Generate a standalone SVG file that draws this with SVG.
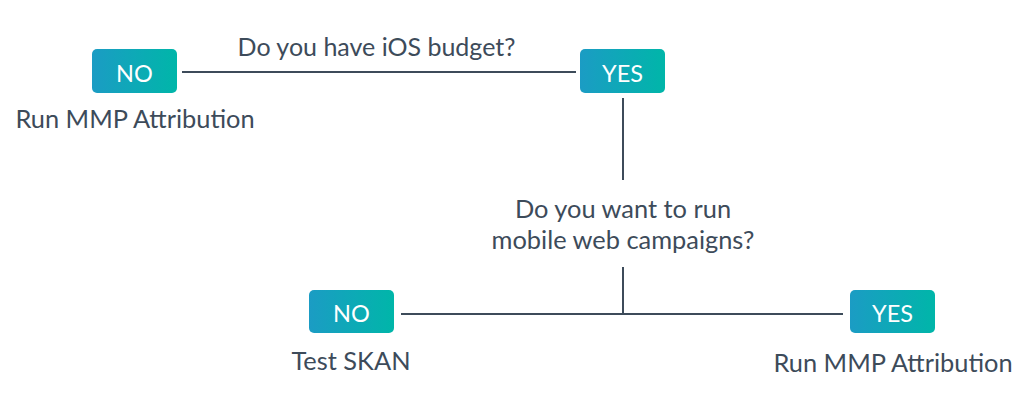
<svg xmlns="http://www.w3.org/2000/svg" width="1024" height="415" viewBox="0 0 1024 415">
<defs>
<linearGradient id="g" x1="0" y1="0" x2="1" y2="0">
<stop offset="0" stop-color="#1b9cc4"/>
<stop offset="1" stop-color="#00b6a9"/>
</linearGradient>
<style>
.box{fill:url(#g);}
.bt{font-family:Lato,"Liberation Sans",sans-serif;font-size:23.5px;fill:#ffffff;text-anchor:middle;}
.t{font-family:Lato,"Liberation Sans",sans-serif;font-size:25.4px;fill:#3d4b5a;text-anchor:middle;}
.ln{stroke:#3d4b5a;stroke-width:2;fill:none;}
</style>
</defs>
<rect width="1024" height="415" fill="#ffffff"/>
<g id="connectors">
<line class="ln" x1="182" y1="72" x2="576" y2="72"/>
<line class="ln" x1="623" y1="98" x2="623" y2="180"/>
<line class="ln" x1="623" y1="267" x2="623" y2="314"/>
<line class="ln" x1="401" y1="314" x2="843" y2="314"/>
</g>
<g id="q1"><text class="t" x="376.5" y="56" style="font-size:25px">Do you have iOS budget?</text></g>
<g id="q2"><text class="t" x="623" y="218">Do you want to run</text><text class="t" x="623" y="249">mobile web campaigns?</text></g>
<g id="no1"><rect class="box" x="92" y="49" width="85" height="44" rx="5"/><text class="bt" x="134.5" y="82">NO</text></g>
<g id="res1"><text class="t" x="135" y="128">Run MMP Attribution</text></g>
<g id="yes1"><rect class="box" x="580" y="49" width="85" height="44" rx="5"/><text class="bt" x="622.5" y="82">YES</text></g>
<g id="no2"><rect class="box" x="309" y="290" width="85" height="43" rx="5"/><text class="bt" x="351.5" y="322">NO</text></g>
<g id="res2"><text class="t" x="351" y="370">Test SKAN</text></g>
<g id="yes2"><rect class="box" x="850" y="290" width="85" height="43" rx="5"/><text class="bt" x="892.5" y="322">YES</text></g>
<g id="res3"><text class="t" x="893" y="372">Run MMP Attribution</text></g>
</svg>
